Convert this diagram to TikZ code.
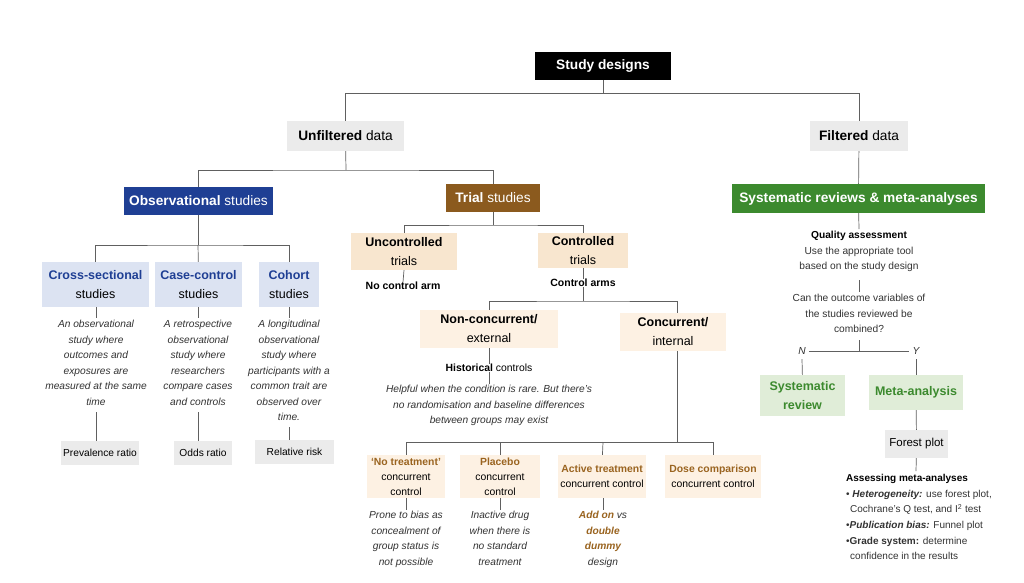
\documentclass[tikz,border=0pt]{standalone}
\usepackage{fontspec}
\usetikzlibrary{calc,backgrounds}
\setmainfont{Liberation Sans}
\definecolor{obsblue}{HTML}{1F3F94}
\definecolor{lblue}{HTML}{DCE3F2}
\definecolor{brownd}{HTML}{8B5A1E}
\definecolor{brownt}{HTML}{9A6420}
\definecolor{tan}{HTML}{F8E6CF}
\definecolor{ltan}{HTML}{FDF1E3}
\definecolor{greend}{HTML}{3C8A2E}
\definecolor{lgreen}{HTML}{E0EDD8}
\definecolor{lgray}{HTML}{EBEBEB}
\definecolor{linec}{HTML}{606060}
\definecolor{txt}{HTML}{333333}
\tikzset{
 x=1pt,y=-1pt,
 box/.style={inner sep=0pt,align=center,font=\fontsize{10.5}{16}\selectfont},
 hdr/.style={box,font=\fontsize{13.7}{16}\selectfont},
 sub/.style={box,font=\fontsize{12.5}{19}\selectfont},
 small/.style={box,font=\fontsize{10.4}{15}\selectfont},
 desc/.style={inner sep=0pt,align=center,text=txt,font=\fontsize{10.2}{15.5}\selectfont\itshape},
 plain/.style={inner sep=0pt,align=center,text=txt,font=\fontsize{10.2}{15.5}\selectfont},
 ln/.style={draw=linec,line width=0.7pt},
}
\begin{document}
\begin{tikzpicture}
\useasboundingbox (0,0) rectangle (1024,582);
\newcommand{\bx}[6]{\fill[#5] (#1,#2) rectangle (#3,#4); \node[box] (#6) at ({(#1+#3)/2},{(#2+#4)/2})}
\bx{535}{52}{671}{80}{black}{sd} [hdr,text=white]{\textbf{Study designs}};
\bx{287}{121}{404}{151}{lgray}{unf} [hdr]{\textbf{Unfiltered} data};
\bx{810}{121}{908}{151}{lgray}{fil} [hdr]{\textbf{Filtered} data};
\bx{124}{187}{273}{215}{obsblue}{obs} [hdr,text=white]{\textbf{Observational} studies};
\bx{446}{184}{540}{212}{brownd}{tri} [hdr,text=white]{\textbf{Trial} studies};
\bx{732}{184}{985}{213}{greend}{sys} [hdr,text=white]{\textbf{Systematic reviews \& meta-analyses}};
% observational
\bx{42}{262}{149}{307}{lblue}{cs} [sub]{\textcolor{obsblue}{\textbf{Cross-sectional}}\\studies};
\bx{155}{262}{242}{307}{lblue}{cc} [sub]{\textcolor{obsblue}{\textbf{Case-control}}\\studies};
\bx{259}{262}{319}{307}{lblue}{co} [sub]{\textcolor{obsblue}{\textbf{Cohort}}\\studies};
\node[desc,anchor=north] (csd) at (96,320) {An observational\\study where\\outcomes and\\exposures are\\measured at the same\\time};
\node[desc,anchor=north] (ccd) at (198,320) {A retrospective\\observational\\study where\\researchers\\compare cases\\and controls};
\node[desc,anchor=north] (cod) at (289,320) {A longitudinal\\observational\\study where\\participants with a\\common trait are\\observed over\\time.};
\bx{61}{441}{139}{465}{lgray}{pr} [plain,text=black]{Prevalence ratio};
\bx{174}{441}{232}{465}{lgray}{or} [plain,text=black]{Odds ratio};
\bx{255}{440}{334}{464}{lgray}{rr} [plain,text=black]{Relative risk};
% trials
\bx{351}{233}{457}{270}{tan}{unc} [sub]{\textbf{Uncontrolled}\\trials};
\bx{538}{233}{628}{268}{tan}{con} [sub]{\textbf{Controlled}\\trials};
\node[box,font=\fontsize{10.5}{12}\selectfont\bfseries] (nca) at (403,286) {No control arm};
\node[box,font=\fontsize{10.5}{12}\selectfont\bfseries] (ca) at (583,283) {Control arms};
\bx{420}{310}{558}{348}{ltan}{nc} [sub]{\textbf{Non-concurrent/}\\external};
\bx{620}{313}{726}{351}{ltan}{cn} [sub]{\textbf{Concurrent/}\\internal};
\node[box,font=\fontsize{10.4}{12}\selectfont] (hc) at (489,368) {\textbf{Historical} controls};
\node[desc,anchor=north] (hcd) at (489,385) {Helpful when the condition is rare. But there's\\no randomisation and baseline differences\\between groups may exist};
\bx{367}{455}{445}{498}{ltan}{nt} [small]{\textcolor{brownt}{\textbf{‘No treatment’}}\\concurrent\\control};
\bx{460}{455}{540}{498}{ltan}{pl} [small]{\textcolor{brownt}{\textbf{Placebo}}\\concurrent\\control};
\bx{558}{455}{646}{498}{ltan}{at} [small]{\textcolor{brownt}{\textbf{Active treatment}}\\concurrent control};
\bx{665}{455}{761}{498}{ltan}{dc} [small]{\textcolor{brownt}{\textbf{Dose comparison}}\\concurrent control};
\node[desc,anchor=north] (ntd) at (406,511) {Prone to bias as\\concealment of\\group status is\\not possible};
\node[desc,anchor=north] (pld) at (500,511) {Inactive drug\\when there is\\no standard\\treatment};
\node[desc,anchor=north] (atd) at (603,511) {\textcolor{brownt}{\textbf{Add on}} vs\\\textcolor{brownt}{\textbf{double}}\\\textcolor{brownt}{\textbf{dummy}}\\design};
% filtered
\node[plain,anchor=north] (qa) at (859,231) {\textcolor{black}{\textbf{Quality assessment}}\\Use the appropriate tool\\based on the study design};
\node[plain,anchor=north] (q) at (859,294) {Can the outcome variables of\\the studies reviewed be\\combined?};
\node[plain,font=\fontsize{10.2}{12}\selectfont\itshape] (N) at (802,351) {N};
\node[plain,font=\fontsize{10.2}{12}\selectfont\itshape] (Y) at (916,351) {Y};
\bx{760}{375}{845}{416}{lgreen}{sr} [sub,font=\fontsize{12.5}{19}\selectfont\bfseries,text=greend]{Systematic\\review};
\bx{869}{375}{963}{410}{lgreen}{ma} [sub,font=\fontsize{12.5}{19}\selectfont\bfseries,text=greend]{Meta-analysis};
\bx{885}{430}{948}{458}{lgray}{fp} [plain,text=black,font=\fontsize{11.5}{12}\selectfont]{Forest plot};
\node[plain,anchor=north west,align=left,font=\fontsize{10}{15.7}\selectfont] (am) at (846,474) {\textcolor{black}{\textbf{Assessing meta-analyses}}\\• \textbf{\textit{Heterogeneity:}} use forest plot,\\\hspace*{4pt}Cochrane's Q test, and I\textsuperscript{2} test\\•\textbf{\textit{Publication bias:}} Funnel plot\\•\textbf{Grade system:} determine\\\hspace*{4pt}confidence in the results};
% connectors
\begin{pgfonlayer}{background}
\fill[white] (0,0) rectangle (1024,582);
\draw[ln] (sd.south) -- ++(0,21) coordinate (j1);
\draw[ln] (unf.north) |- (j1) -| (fil.north);
\draw[ln] (unf.south) -- (346,170) coordinate (j2);
\draw[ln] (obs.north) |- (j2) -| (tri.north);
\draw[ln] (fil.south) -- (sys.north);
\draw[ln] (198,215) -- (198,245) coordinate (j3);
\draw[ln] (cs.north) |- (j3) -| (co.north);
\draw[ln] (j3) -- (cc.north);
\draw[ln] (96,307) -- (96,318); \draw[ln] (198,307) -- (198,318); \draw[ln] (289,307) -- (289,318);
\draw[ln] (96,412) -- (96,441); \draw[ln] (198,412) -- (198,441); \draw[ln] (289,427) -- (289,440);
\draw[ln] (tri.south) -- (493,225) coordinate (j4);
\draw[ln] (unc.north) |- (j4) -| (con.north);
\draw[ln] (404,270) -- (nca.north); \draw[ln] (583,268) -- (ca.north);
\draw[ln] (ca.south) -- (583,301) coordinate (j5);
\draw[ln] (nc.north) |- (j5) -| (677,313);
\draw[ln] (489,348) -- (hc.north); \draw[ln] (hc.south) -- (489,384);
\draw[ln] (677,351) -- (677,442) coordinate (j6);
\draw[ln] (nt.north) |- (j6) -| (dc.north);
\draw[ln] (500,442) -- (pl.north); \draw[ln] (603,442) -- (at.north);
\draw[ln] (406,498) -- (406,510); \draw[ln] (500,498) -- (500,510); \draw[ln] (603,498) -- (603,510);
\draw[ln] (sys.south) -- (859,229);
\draw[ln] (859,280) -- (859,292);
\draw[ln] (859,340) -- (859,351);
\draw[ln] ($(N.east)+(3,0)$) -- ($(Y.west)+(-3,0)$);
\draw[ln] (802,359) -- (sr.north);
\draw[ln] (916,359) -- (ma.north);
\draw[ln] (ma.south) -- (fp.north);
\draw[ln] (fp.south) -- (916,471);
\end{pgfonlayer}
\end{tikzpicture}
\end{document}
